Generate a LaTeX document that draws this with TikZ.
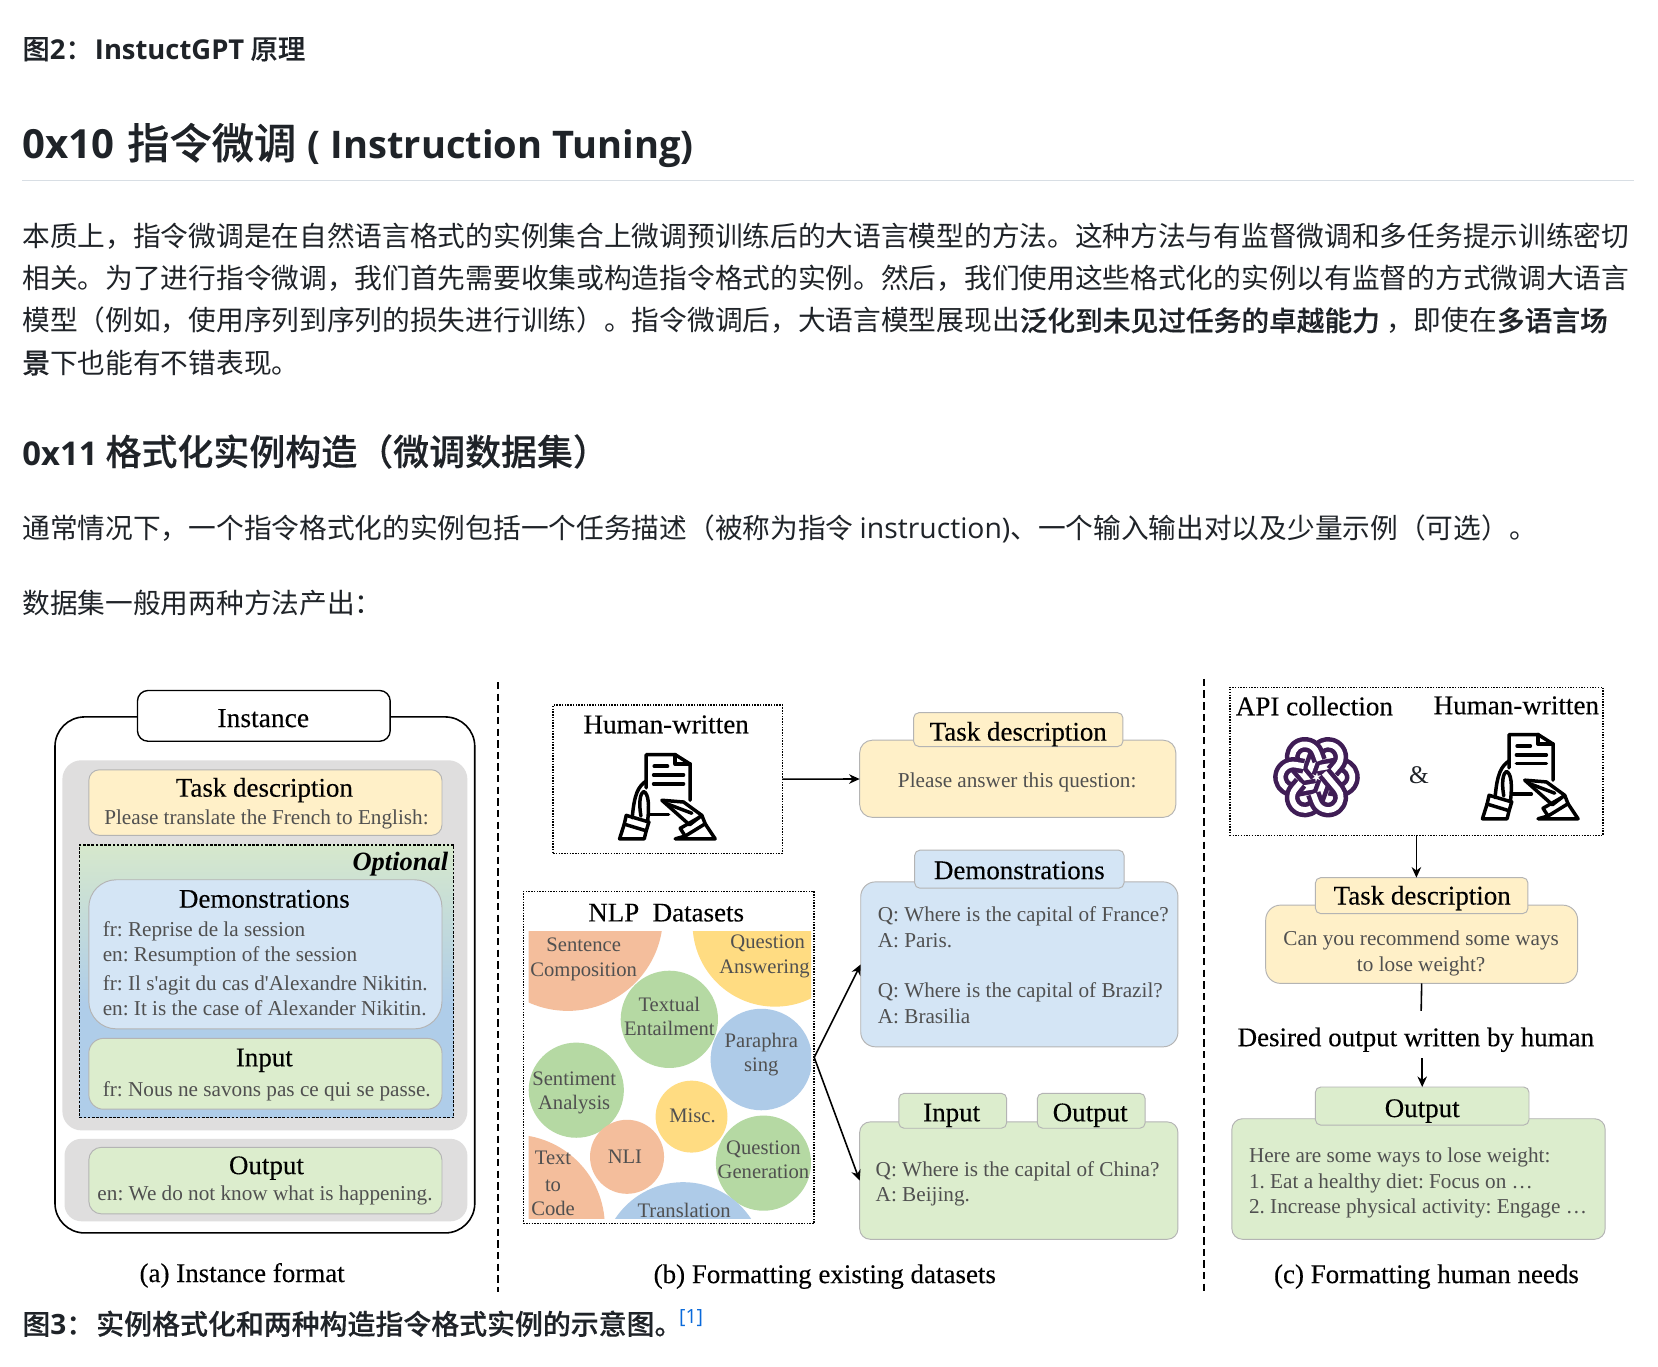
\documentclass[tikz,border=0pt]{standalone}
\usepackage{fontspec}
\usetikzlibrary{arrows.meta}
\setmainfont{Liberation Serif}
\newfontfamily\plainserif{Liberation Serif}
\newfontfamily\headfont{Liberation Serif}[FakeBold=0.25]
\newfontfamily\cjk{Noto Sans CJK SC}[BoldFont={Noto Sans CJK SC Medium},BoldFeatures={FakeBold=0.25}]
\newfontfamily\lat{Open Sans}
\newcommand{\zc}{\char"FF0C\relax}
\newcommand{\zp}{\char"FF1A\relax}
\newcommand{\zl}{\char"FF08\relax}
\newcommand{\zr}{\char"FF09\relax}
\definecolor{ink}{HTML}{1F2328}
\definecolor{gtxt}{HTML}{505050}
\definecolor{rulec}{HTML}{D8DEE4}
\definecolor{panelgray}{HTML}{DFDEDE}
\definecolor{edgegray}{HTML}{B4B4B4}
\definecolor{ylw}{HTML}{FFF0C8}
\definecolor{blu}{HTML}{D4E5F5}
\definecolor{grn}{HTML}{DCEDCD}
\definecolor{optblue}{HTML}{AFCDE9}
\definecolor{optgreen}{HTML}{D6E8CC}
\definecolor{csalmon}{HTML}{F4BE9C}
\definecolor{cyellow}{HTML}{FFDC82}
\definecolor{cgreen}{HTML}{B5D9A3}
\definecolor{cblue}{HTML}{AECBE8}
\definecolor{logoc}{HTML}{3F1D55}
\definecolor{linkc}{HTML}{0969DA}
\pgfdeclareverticalshading{optshade}{100bp}{color(0bp)=(optblue); color(25bp)=(optblue); color(46bp)=(optblue); color(75bp)=(optgreen); color(100bp)=(optgreen)}
\tikzset{
  x=1pt,y=-1pt,
  fs/.style={font=\frenchspacing\fontsize{#1}{#1}\selectfont,anchor=base,inner sep=0pt,yshift={-#1*0.33pt}},
  heavy/.style={font=\headfont\frenchspacing\fontsize{#1}{#1}\selectfont,anchor=base,inner sep=0pt,yshift={-#1*0.33pt},text=black},
  zh/.style={font=\cjk\fontsize{#1}{#1}\selectfont,text=ink,anchor=base west,inner sep=0pt,yshift={-#1*0.38pt}},
  zhb/.style={font=\cjk\bfseries\fontsize{#1}{#1}\selectfont,text=ink,anchor=base west,inner sep=0pt,yshift={-#1*0.38pt}},
  bx/.style={inner sep=0pt,outer sep=0pt},
  box/.style={bx,draw=edgegray,line width=.9pt,rounded corners=#1},
  box/.default=10pt,
  dotbox/.style={bx,draw=black,line width=1.5pt,dash pattern=on 1.4pt off 1.2pt},
  headt/.style={heavy=25.5},
  txtline/.style={fs=20.05,text=gtxt,anchor=base west},
  captxt/.style={heavy=25.5},
  clab/.style={fs=19.5,text=gtxt},
  arr/.style={draw=black,line width=1.5pt,-{Stealth[length=10pt,width=9pt]}},
  vsep/.style={draw=black,line width=1.8pt,dash pattern=on 7pt off 4pt},
  hwicon/.pic={
    \begin{scope}[xscale=.315,yscale=.332,line width=3.3pt,line join=round,line cap=round,draw=black,shift={(-325,-200)}]
      \draw (408,300) -- (408,205) -- (495,205) -- (540,232) -- (540,335);
      \draw (495,205) -- (495,232) -- (540,232);
      \draw (432,238) -- (472,238) (430,263) -- (520,263) (430,288) -- (520,288);
      \draw (420,375) -- (475,375);
      \draw (408,280) .. controls (385,295) and (372,315) .. (366,385);
      \draw (392,380) .. controls (385,340) and (390,315) .. (400,310) .. controls (415,315) and (418,350) .. (412,395);
      \draw (348,378) -- (416,397) -- (408,422) -- (342,403) -- cycle;
      \draw (342,403) -- (328,445) -- (402,445) -- (408,422);
      \draw (455,335) -- (520,340) -- (575,378) -- (538,405) -- cycle;
      \draw (470,345) -- (545,372);
      \draw (575,378) -- (585,402) -- (525,437) -- (510,415) -- (565,385);
      \draw (495,445) -- (525,437) (585,402) -- (615,445) -- (495,445);
    \end{scope}
  },
  logostrand/.pic={
    \draw[draw=logoc,line width=14pt,line cap=butt,line join=round]
      (0,-8.3) -- (19.92,-11.82) arc[start angle=-100,end angle=100,radius=12] -- (12.04,10.43);
    \draw[draw=white,line width=5.4pt,line cap=butt,line join=round]
      (0,-8.3) -- (19.92,-11.82) arc[start angle=-100,end angle=100,radius=12] -- (12.04,10.43);
  }
}
% name, style, x1, y1, x2, y2
\newcommand{\pbox}[6]{\node[#2,minimum width={(#5-#3)*1pt},minimum height={(#6-#4)*1pt}] (#1) at ({(#3+#5)/2},{(#4+#6)/2}) {};}
\begin{document}
\begin{tikzpicture}
\useasboundingbox (0,0) rectangle (1568,1292);
\fill[white] (0,0) rectangle (1568,1292);
%%% page text
\node[zhb=25.9] (t1) at (21,46) {图{\lat 2}\zp\hspace{2pt}{\lat InstuctGPT} 原理};
\node[zhb=40] (h1) at (21,135) {{\lat\fontsize{38}{38}\selectfont 0x10}\hspace{3pt} 指令微调\hspace{2pt} {\lat\fontsize{36}{36}\selectfont ( Instruction Tuning)}};
\coordinate (ruleL) at (21,171);
\coordinate (ruleR) at (1545,171);
\draw[rulec,line width=1.2pt] (ruleL) -- (ruleR);
\node[zh=26.2] (p1) at (21,223) {本质上\zc 指令微调是在自然语言格式的实例集合上微调预训练后的大语言模型的方法。这种方法与有监督微调和多任务提示训练密切};
\node[zh=26.2] (p2) at (21,263) {相关。为了进行指令微调\zc 我们首先需要收集或构造指令格式的实例。然后\zc 我们使用这些格式化的实例以有监督的方式微调大语言};
\node[zh=26.2] (p3) at (21,303) {模型\zl 例如\zc 使用序列到序列的损失进行训练\zr 。指令微调后\zc 大语言模型展现出{\bfseries 泛化到未见过任务的卓越能力} \zc 即使在{\bfseries 多语言场}};
\node[zh=26.2] (p4) at (21,343) {{\bfseries 景}下也能有不错表现。};
\node[zhb=34] (h2) at (21,427) {{\lat\fontsize{31}{31}\selectfont 0x11} 格式化实例构造\zl 微调数据集\zr};
\node[zh=26.2] (p5) at (21,499) {通常情况下\zc 一个指令格式化的实例包括一个任务描述\zl 被称为指令 {\lat\fontsize{26.8}{26.8}\selectfont instruction)}、一个输入输出对以及少量示例\zl 可选\zr 。};
\node[zh=26.2] (p6) at (21,570) {数据集一般用两种方法产出\zp};
\node[zhb=26.4] (t3) at (21,1252) {图{\lat 3}\zp\hspace{2pt}实例格式化和两种构造指令格式实例的示意图。};
\node[font=\lat\fontsize{18.5}{18.5}\selectfont,text=linkc,anchor=base west,inner sep=0pt] (ref) at (642,1252) {[1]};
%%% separators
\coordinate (s1a) at (471,645); \coordinate (s1b) at (471,1222);
\coordinate (s2a) at (1139,642); \coordinate (s2b) at (1139,1222);
\draw[vsep] (s1a) -- (s1b);
\draw[vsep] (s2a) -- (s2b);
%%% panel a
\pbox{outer}{bx,draw=black,line width=1.5pt,rounded corners=28pt,fill=white}{52}{678}{449}{1166}
\pbox{inst}{bx,draw=black,line width=1.3pt,rounded corners=10pt,fill=white}{130}{653}{369}{701}
\node[heavy=26] (instt) at (249,679) {Instance};
\pbox{g1}{bx,fill=panelgray,rounded corners=18pt}{59}{719}{442}{1069}
\pbox{g2}{bx,fill=panelgray,rounded corners=16pt}{61}{1077}{442}{1155}
\pbox{ta}{box,fill=ylw}{84}{728}{418}{790}
\node[headt] (tat) at (250,745) {Task description};
\node[fs=20.05,text=gtxt] (tal) at (252,773) {Please translate the French to English:};
\pbox{opt}{bx,shading=optshade}{75}{799}{429}{1057}
\pbox{optb}{bx,draw=black,line width=1.2pt,dash pattern=on 2.5pt off 1.5pt}{75}{799}{429}{1057}
\node[fs=25,font=\bfseries\itshape\fontsize{25}{25}\selectfont,anchor=base east] (optt) at (424,815) {Optional};
\pbox{da}{box=26pt,fill=blu}{84}{832}{418}{973}
\node[headt] (dat) at (250,850) {Demonstrations};
\node[txtline] (da1) at (97,879) {fr: Reprise de la session};
\node[txtline] (da2) at (97,903) {en: Resumption of the session};
\node[txtline] (da3) at (97,930) {fr: Il s{\plainserif '}agit du cas d{\plainserif '}Alexandre Nikitin.};
\node[txtline] (da4) at (97,954) {en: It is the case of Alexander Nikitin.};
\pbox{ia}{box=14pt,fill=grn}{84}{982}{418}{1049}
\node[headt] (iat) at (250,1000) {Input};
\node[txtline] (ial) at (97,1030) {fr: Nous ne savons pas ce qui se passe.};
\pbox{oa}{box=12pt,fill=grn}{84}{1085}{418}{1148}
\node[headt] (oat) at (252,1102) {Output};
\node[txtline] (oal) at (92,1129) {en: We do not know what is happening.};
\node[captxt] (capa) at (229,1204) {(a) Instance format};
%%% panel b: human-written
\pbox{hw}{dotbox,fill=white}{523}{667}{740}{807}
\node[heavy=25.6] (hwt) at (630,685) {Human-written};
\pic (hwi) at (585,712) {hwicon};
\pbox{tbm}{box=12pt,fill=ylw}{813}{700}{1112}{773}
\pbox{tbt}{box=5pt,fill=ylw}{864}{674}{1062}{706}
\node[headt] (tbtt) at (963,692) {Task description};
\node[fs=20.05,text=gtxt] (tbl) at (962,738) {Please answer this question:};
\draw[arr] (hw) -- (tbm);
\pbox{dbm}{box=14pt,fill=blu}{814}{834}{1114}{990}
\pbox{dbt}{box=5pt,fill=blu}{865}{804}{1063}{840}
\node[headt] (dbtt) at (964,823) {Demonstrations};
\node[txtline] (db1) at (830,865) {Q: Where is the capital of France?};
\node[txtline] (db2) at (830,889) {A: Paris.};
\node[txtline] (db3) at (830,937) {Q: Where is the capital of Brazil?};
\node[txtline] (db4) at (830,961) {A: Brasilia};
\pbox{ibm}{box=10pt,fill=grn}{813}{1061}{1114}{1172}
\pbox{ibt}{box=5pt,fill=grn}{850}{1034}{952}{1067}
\pbox{obt}{box=5pt,fill=grn}{981}{1034}{1083}{1067}
\node[headt] (ibtt) at (900,1052) {Input};
\node[headt] (obtt) at (1031,1052) {Output};
\node[txtline] (ib1) at (828,1106) {Q: Where is the capital of China?};
\node[txtline] (ib2) at (828,1130) {A: Beijing.};
%%% panel b: NLP datasets
\pbox{nlp}{dotbox,fill=white}{495}{843}{770}{1157}
\node[heavy=25.5] (nlpt) at (630,863) {NLP\ \ Datasets};
\begin{scope}
  \clip (500,881) rectangle (767,1152);
  \fill[csalmon] (537,866) circle[radius=90];
  \fill[cyellow] (733,874) circle[radius=78];
  \fill[cgreen] (633,964) circle[radius=46];
  \fill[cblue] (720,1002) circle[radius=48];
  \fill[cgreen] (545,1031) circle[radius=45];
  \fill[cyellow] (654,1056) circle[radius=34];
  \fill[csalmon] (593,1094) circle[radius=35];
  \fill[cgreen] (722,1100) circle[radius=45];
  \fill[csalmon] (485,1160) circle[radius=87];
  \fill[cblue] (646,1195) circle[radius=77];
\end{scope}
\node[clab] (l1) at (552,893) {Sentence};
\node[clab] (l2) at (552,917) {Composition};
\node[clab] (l3) at (726,891) {Question};
\node[clab] (l4) at (723,914) {Answering};
\node[clab] (l5) at (633,950) {Textual};
\node[clab] (l6) at (633,973) {Entailment};
\node[clab] (l7) at (720,984) {Paraphra};
\node[clab] (l8) at (720,1007) {sing};
\node[clab] (l9) at (543,1020) {Sentiment};
\node[clab] (l10) at (543,1043) {Analysis};
\node[clab] (l11) at (655,1055) {Misc.};
\node[clab] (l12) at (591,1094) {NLI};
\node[clab] (l13) at (523,1095) {Text};
\node[clab] (l14) at (523,1120) {to};
\node[clab] (l15) at (523,1143) {Code};
\node[clab] (l16) at (722,1085) {Question};
\node[clab] (l17) at (722,1108) {Generation};
\node[clab] (l18) at (647,1145) {Translation};
\draw[arr] (nlp.east) -- (dbm.west);
\draw[arr] (nlp.east) -- (ibm.west);
\node[captxt] (capb) at (780,1205) {(b) Formatting existing datasets};
%%% panel c
\pbox{api}{dotbox,fill=white}{1163}{650}{1516}{790}
\node[heavy=25.6] (apit) at (1243,668) {API collection};
\node[heavy=25.6] (hwct) at (1434,667) {Human-written};
\foreach \a in {0,60,...,300}{
  \pic[rotate=\a] at (1245,735) {logostrand};
}
\node[fs=24,text=ink] (amp) at (1342,733) {\&};
\pic (hwci) at (1401,693) {hwicon};
\pbox{tcm}{box=14pt,fill=ylw}{1197}{856}{1492}{930}
\pbox{tct}{box=5pt,fill=ylw}{1244}{830}{1445}{864}
\node[headt] (tctt) at (1345,847) {Task description};
\node[fs=20.05,text=gtxt] (tc1) at (1344,888) {Can you recommend some ways};
\node[fs=20.05,text=gtxt] (tc2) at (1344,912) {to lose weight?};
\draw[arr] (api.south) -- (api.south |- tct.north);
\node[captxt] (des) at (1339,981) {Desired output written by human};
\coordinate (desUp) at (1344,956);
\coordinate (desDn) at (1345,1001);
\draw[draw=black,line width=1.5pt] (tcm.south) -- (desUp);
\pbox{ocm}{box=10pt,fill=grn}{1165}{1058}{1518}{1172}
\pbox{oct}{box=5pt,fill=grn}{1244}{1028}{1446}{1064}
\node[headt] (octt) at (1345,1048) {Output};
\node[txtline] (oc1) at (1181,1093) {Here are some ways to lose weight:};
\node[txtline] (oc2) at (1181,1117) {1. Eat a healthy diet: Focus on …};
\node[txtline] (oc3) at (1181,1141) {2. Increase physical activity: Engage …};
\draw[arr] (desDn) -- (desDn |- oct.north);
\node[captxt] (capc) at (1349,1205) {(c) Formatting human needs};
\end{tikzpicture}
\end{document}
